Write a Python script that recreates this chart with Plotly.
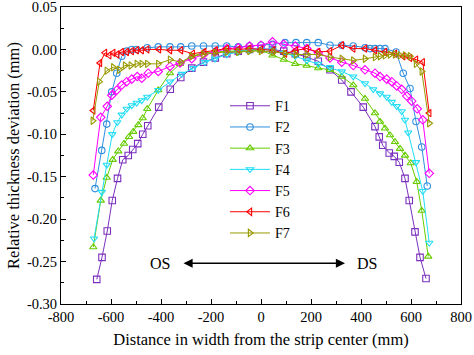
import plotly.graph_objects as go

# ---- data (mm, mm) ----
names = ["F1", "F2", "F3", "F4", "F5", "F6", "F7"]

f1_x = [-657, -636, -615, -595, -574, -553, -531, -513, -493, -473, -453, -409, -363, -321, -277, -230, -183, -137, -91, -46, 0, 46, 91, 137, 183, 229, 276, 323, 360, 409, 456, 473, 487, 513, 533, 553, 576, 593, 616, 636, 660]
f1_y = [-0.271, -0.245, -0.214, -0.178, -0.152, -0.130, -0.125, -0.118, -0.111, -0.100, -0.090, -0.068, -0.047, -0.033, -0.022, -0.015, -0.010, -0.005, -0.002, 0.000, 0.001, 0.000, -0.002, -0.005, -0.009, -0.014, -0.024, -0.036, -0.050, -0.068, -0.091, -0.103, -0.113, -0.122, -0.126, -0.133, -0.152, -0.178, -0.215, -0.245, -0.270]

f2_x = [-664, -637, -617, -597, -577, -557, -537, -517, -497, -455, -411, -364, -321, -277, -230, -183, -137, -91, -46, 0, 46, 96, 140, 183, 229, 276, 323, 369, 416, 436, 456, 476, 496, 540, 569, 596, 620, 643, 665]
f2_y = [-0.164, -0.119, -0.088, -0.050, -0.028, -0.008, -0.002, 0.000, 0.000, 0.002, 0.003, 0.003, 0.003, 0.004, 0.004, 0.004, 0.004, 0.003, 0.004, 0.005, 0.006, 0.008, 0.008, 0.008, 0.008, 0.005, 0.005, 0.004, 0.002, 0.001, 0.001, 0.001, 0.001, -0.003, -0.028, -0.046, -0.085, -0.115, -0.161]

f3_x = [-671, -641, -617, -593, -571, -548, -528, -511, -491, -473, -455, -411, -364, -324, -277, -230, -183, -137, -91, -46, 0, 46, 91, 137, 183, 229, 276, 323, 369, 416, 456, 476, 496, 516, 536, 556, 576, 599, 623, 643, 669]
f3_y = [-0.233, -0.178, -0.151, -0.130, -0.120, -0.111, -0.103, -0.097, -0.089, -0.081, -0.070, -0.048, -0.028, -0.017, -0.008, -0.004, -0.003, -0.002, -0.002, -0.001, -0.001, -0.007, -0.012, -0.017, -0.019, -0.022, -0.024, -0.032, -0.042, -0.058, -0.075, -0.085, -0.093, -0.101, -0.109, -0.117, -0.125, -0.134, -0.156, -0.190, -0.244]

f4_x = [-668, -637, -617, -595, -575, -557, -537, -517, -497, -477, -455, -411, -364, -317, -271, -224, -184, -137, -91, -46, 0, 46, 91, 137, 183, 229, 276, 323, 369, 416, 449, 476, 503, 523, 543, 563, 576, 589, 620, 647, 673]
f4_y = [-0.223, -0.168, -0.136, -0.100, -0.086, -0.077, -0.070, -0.066, -0.063, -0.060, -0.056, -0.048, -0.038, -0.029, -0.022, -0.015, -0.011, -0.006, -0.003, -0.001, 0.000, -0.001, -0.004, -0.008, -0.013, -0.017, -0.021, -0.026, -0.032, -0.040, -0.047, -0.052, -0.056, -0.062, -0.067, -0.073, -0.083, -0.098, -0.133, -0.167, -0.228]

f5_x = [-671, -641, -615, -597, -577, -557, -537, -517, -495, -477, -451, -411, -364, -324, -277, -230, -183, -137, -91, -46, 0, 46, 91, 137, 183, 229, 276, 323, 369, 416, 456, 476, 503, 523, 543, 563, 583, 603, 625, 647, 673]
f5_y = [-0.148, -0.080, -0.067, -0.054, -0.048, -0.042, -0.038, -0.035, -0.032, -0.034, -0.028, -0.026, -0.020, -0.016, -0.011, -0.006, -0.003, 0.001, 0.002, 0.004, 0.005, 0.009, 0.006, 0.004, 0.001, -0.004, -0.010, -0.015, -0.019, -0.024, -0.028, -0.032, -0.035, -0.038, -0.043, -0.047, -0.055, -0.061, -0.070, -0.083, -0.146]

f6_x = [-671, -644, -624, -607, -591, -575, -557, -537, -517, -497, -477, -455, -408, -364, -320, -273, -227, -181, -137, -91, -47, 0, 49, 96, 140, 183, 229, 276, 323, 369, 416, 456, 496, 536, 569, 596, 620, 647, 673]
f6_y = [-0.072, -0.016, -0.004, -0.007, -0.004, -0.006, -0.003, -0.003, -0.002, -0.001, -0.001, 0.000, 0.000, -0.001, -0.001, -0.005, -0.003, -0.001, 0.001, 0.000, 0.001, 0.000, -0.001, -0.005, -0.001, 0.001, -0.003, -0.002, 0.005, 0.001, 0.001, -0.001, -0.003, -0.005, -0.008, -0.010, -0.012, -0.015, -0.075]

f7_x = [-673, -647, -617, -591, -567, -544, -521, -497, -477, -455, -411, -364, -320, -277, -230, -183, -137, -91, -46, 0, 49, 96, 140, 183, 229, 276, 323, 369, 416, 456, 476, 496, 516, 536, 556, 576, 596, 620, 643, 673]
f7_y = [-0.084, -0.038, -0.025, -0.021, -0.024, -0.019, -0.019, -0.017, -0.017, -0.017, -0.017, -0.012, -0.015, -0.008, -0.006, -0.004, -0.003, -0.003, -0.002, -0.002, -0.003, -0.005, -0.006, -0.006, -0.006, -0.009, -0.011, -0.013, -0.011, -0.009, -0.008, -0.007, -0.006, -0.006, -0.007, -0.007, -0.008, -0.017, -0.026, -0.087]

xs = [f1_x, f2_x, f3_x, f4_x, f5_x, f6_x, f7_x]
ys = [f1_y, f2_y, f3_y, f4_y, f5_y, f6_y, f7_y]

x_ticks = [-800, -600, -400, -200, 0, 200, 400, 600, 800]
y_ticks = [0.05, 0.00, -0.05, -0.10, -0.15, -0.20, -0.25, -0.30]

# ---- styles ----
colors = ["#7B2FBE", "#2F8FDF", "#66CC00", "#22DDF5", "#FF00FF", "#FF0000", "#999900"]
symbols = ["square-open", "circle-open", "triangle-up-open", "triangle-down-open",
           "diamond-open", "triangle-left-open", "triangle-right-open"]

FONT = "Liberation Serif, Times New Roman, serif"

fig = go.Figure()
for n, x, y, c, s in zip(names, xs, ys, colors, symbols):
    fig.add_trace(go.Scatter(
        x=x, y=y, name=n, mode="lines+markers",
        line=dict(color=c, width=1),
        marker=dict(symbol=s, size=6.5, color=c, line=dict(color=c, width=1.1)),
    ))

fig.add_annotation(x=336, y=-0.252, ax=-316, ay=-0.252, xref="x", yref="y",
                   axref="x", ayref="y", showarrow=True, arrowhead=2, arrowside="end+start",
                   arrowsize=1.3, arrowwidth=1.4, arrowcolor="black", text="")
fig.add_annotation(x=-404, y=-0.252, text="OS", showarrow=False,
                   font=dict(size=16, color="black", family=FONT))
fig.add_annotation(x=424, y=-0.252, text="DS", showarrow=False,
                   font=dict(size=16, color="black", family=FONT))

axis_common = dict(
    showline=True, linecolor="black", linewidth=1, mirror=True,
    ticks="inside", ticklen=5, tickwidth=1, tickcolor="black",
    showgrid=False, zeroline=False, automargin=False, ticklabeloverflow="allow",
    tickfont=dict(size=14.5, color="black", family=FONT),
)
fig.update_xaxes(**axis_common, range=[-800, 800], tickvals=x_ticks,
                 ticktext=[str(v) for v in x_ticks],
                 minor=dict(ticks="inside", ticklen=3, dtick=100, tick0=0, tickcolor="black"),
                 title=dict(text="Distance in width from the strip center (mm)",
                            font=dict(size=16.5, color="black", family=FONT), standoff=9))
fig.update_yaxes(**axis_common, range=[-0.30, 0.05], tickvals=y_ticks,
                 ticktext=[f"{v:.2f}" for v in y_ticks],
                 minor=dict(ticks="inside", ticklen=3, dtick=0.025, tick0=0, tickcolor="black"),
                 title=dict(text="Relative thickness deviation (mm)",
                            font=dict(size=16.5, color="black", family=FONT), standoff=3))

fig.update_layout(
    width=474, height=355,
    margin=dict(l=61, r=13, t=7, b=51, autoexpand=False),
    paper_bgcolor="white", plot_bgcolor="white",
    font=dict(family=FONT, color="black"),
    legend=dict(x=0.41, y=0.72, xanchor="left", yanchor="top",
                bgcolor="rgba(0,0,0,0)", font=dict(size=14, family=FONT),
                itemwidth=40, tracegroupgap=0),
    showlegend=True,
)

fig.write_html("out.html", config={"displayModeBar": False},
               post_script="document.body.style.margin='0';")
